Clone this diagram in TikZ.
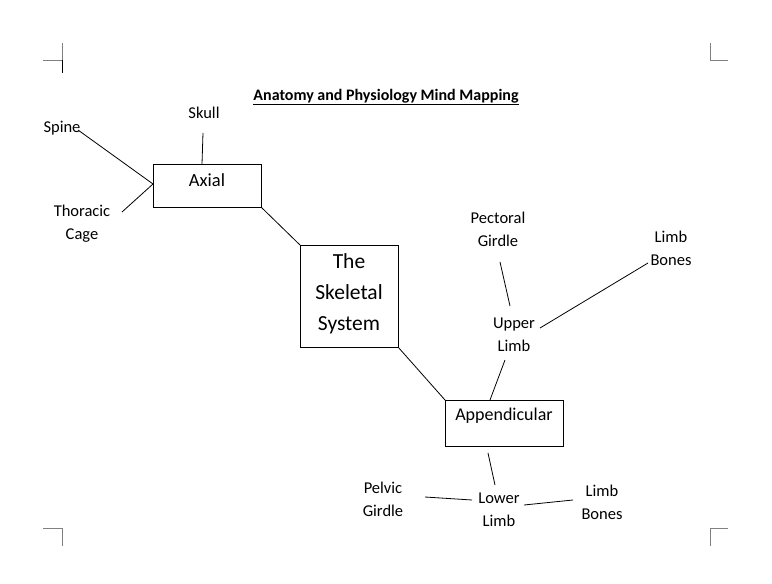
\documentclass[tikz,border=0pt]{standalone}
\usepackage{fontspec}
\setmainfont{Carlito}
\begin{document}
\begin{tikzpicture}[x=1pt,y=-1pt,
  lbl/.style={font=\fontsize{16.5}{23}\selectfont,align=center},
  ln/.style={line width=0.8pt},
  crop/.style={line width=0.6pt,gray}]
\useasboundingbox (0,0) rectangle (772,584);
% crop marks
\draw[crop] (62,43)--(62,60)--(43,60);
\draw[line width=0.8pt] (62,60)--(62,73);
\draw[crop] (710,43)--(710,60)--(728,60);
\draw[crop] (43,528)--(62,528)--(62,546);
\draw[crop] (728,528)--(710,528)--(710,546);
\node[font=\bfseries\fontsize{16}{18}\selectfont] (title) at (386,97) {\underline{Anatomy and Physiology Mind Mapping}};
% boxes
\draw[line width=0.8pt] (153,164) rectangle (261,207);
\node[font=\fontsize{18.5}{20}\selectfont] (axial) at (207,180) {Axial};
\draw[line width=0.8pt] (300,245) rectangle (398,347);
\node[align=center,font=\fontsize{21.5}{31}\selectfont] (skel) at (349,294) {The\\Skeletal\\System};
\draw[line width=0.8pt] (445,400) rectangle (563,446);
\node[font=\fontsize{18}{20}\selectfont] (app) at (504,416) {Appendicular};
% labels
\node[lbl] (skull) at (204,113) {Skull};
\node[lbl] (spine) at (62,128) {Spine};
\node[lbl] (thor) at (82,224) {Thoracic\\Cage};
\node[lbl] (pect) at (498,229) {Pectoral\\Girdle};
\node[lbl] (upper) at (514,335) {Upper\\Limb};
\node[lbl] (lb1) at (671,248) {Limb\\Bones};
\node[lbl] (lower) at (499,510) {Lower\\Limb};
\node[lbl] (pelv) at (383,499) {Pelvic\\Girdle};
\node[lbl] (lb2) at (602,502) {Limb\\Bones};
% connectors
\coordinate (axbr) at (261,207); \coordinate (sktl) at (300,245);
\coordinate (skbr) at (398,347); \coordinate (aptl) at (445,400);
\draw[ln] (axbr)--(sktl);
\draw[ln] (skbr)--(aptl);
\coordinate (axl) at (153,184); \coordinate (axt) at (202,164);
\draw[ln] (axt)--(203,133);
\draw[ln] (axl)--(78,130);
\draw[ln] (axl)--(122,212);
\draw[ln] (500,262)--(510,306);
\draw[ln] (505,360)--(490,400);
\draw[ln] (540,328)--(648,263);
\draw[ln] (488,453)--(495,485);
\draw[ln] (425,497)--(472,500);
\draw[ln] (524,505)--(573,500);
\end{tikzpicture}
\end{document}
